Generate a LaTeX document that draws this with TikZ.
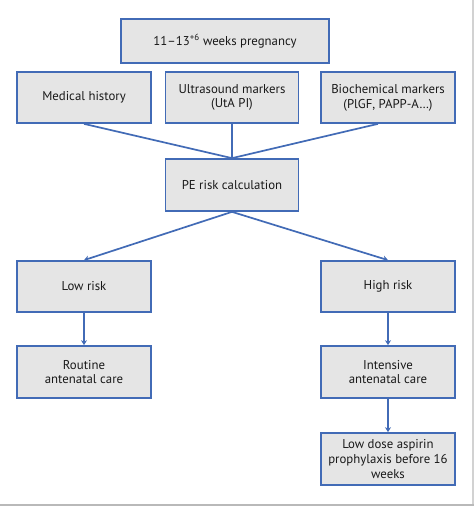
\documentclass[tikz,border=0pt]{standalone}
\usepackage{fontspec}
\setmainfont{PT Sans}
\usetikzlibrary{arrows.meta}
\definecolor{boxblue}{RGB}{66,107,182}
\definecolor{boxfill}{RGB}{229,229,229}
\tikzset{
  box/.style={draw=boxblue, line width=1.7pt, fill=boxfill, rectangle, inner sep=0pt, align=center, text=black!90, font=\fontsize{12.8}{14.8}\selectfont},
  conn/.style={draw=boxblue, line width=1.7pt},
  arr/.style={conn, -{Stealth[length=5pt,width=6pt]}}
}
\begin{document}
\begin{tikzpicture}[x=1pt,y=-1pt]
\useasboundingbox (0,0) rectangle (474,506);
\fill[white] (0,0) rectangle (474,506);
\draw[gray!35, line width=1.5pt] (473,0) -- (473,506);
\draw[gray!55, line width=2pt] (0,505) -- (474,505);
\node[box, minimum width=208pt, minimum height=44pt] (top) at (225,41) {11–13\textsuperscript{+6} weeks pregnancy};
\node[box, minimum width=134pt, minimum height=51pt] (med) at (84,97.5) {Medical history};
\node[box, minimum width=133pt, minimum height=51pt] (us) at (232,97.5) {Ultrasound markers\\(UtA PI)};
\node[box, minimum width=134pt, minimum height=51pt] (bio) at (388,97.5) {Biochemical markers\\(PlGF, PAPP-A…)};
\node[box, minimum width=133pt, minimum height=52pt] (pe) at (232,185) {PE risk calculation};
\node[box, minimum width=134pt, minimum height=51pt] (low) at (84,286.5) {Low risk};
\node[box, minimum width=134pt, minimum height=51pt] (high) at (388,286.5) {High risk};
\node[box, minimum width=134pt, minimum height=52pt] (routine) at (84,372) {Routine\\antenatal care};
\node[box, minimum width=134pt, minimum height=52pt] (intens) at (388,372) {Intensive\\antenatal care};
\node[box, minimum width=134pt, minimum height=52pt] (asp) at (388,459) {Low dose aspirin\\prophylaxis before 16\\weeks};
\coordinate (join) at (pe.north);
\draw[conn] (med.south) -- (join);
\draw[conn] (us.south) -- (join);
\draw[conn] ([xshift=-10pt]bio.south) -- (join);
\draw[arr] (pe.south) -- (low.north);
\draw[arr] (pe.south) -- (high.north);
\draw[arr] (low.south) -- (routine.north);
\draw[arr] (high.south) -- (intens.north);
\draw[arr] (intens.south) -- (asp.north);
\end{tikzpicture}
\end{document}
